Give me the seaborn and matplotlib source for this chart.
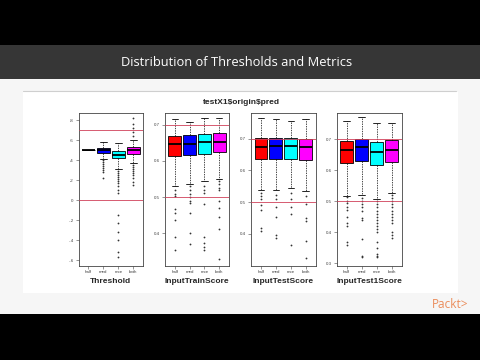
import numpy as np
import pandas as pd
import matplotlib
matplotlib.use("Agg")
import matplotlib.pyplot as plt
from matplotlib.patches import Rectangle
import seaborn as sns

sns.set_style("ticks")
plt.rcParams['font.family'] = ['Liberation Sans', 'DejaVu Sans']

groups = ["half", "med", "mce", "both"]
colors = ["#ff0000", "#0000ff", "#00ffff", "#ff00ff"]

# Threshold: five-number summaries (whisker low, q1, median, q3, whisker high)
thr_lo = [0.5, 0.413, 0.307, 0.37]
thr_q1 = [0.5, 0.477, 0.427, 0.467]
thr_med = [0.5, 0.5, 0.457, 0.5]
thr_q3 = [0.5, 0.523, 0.49, 0.533]
thr_hi = [0.5, 0.583, 0.577, 0.607]
thr_out = [
    [],
    [0.40, 0.38, 0.36, 0.34, 0.32, 0.30, 0.28, 0.22],
    [0.29, 0.27, 0.25, 0.23, 0.21, 0.19, 0.17, 0.14, 0.10, 0.07,
     -0.15, -0.23, -0.32, -0.40, -0.52, -0.57],
    [0.64, 0.68, 0.72, 0.76, 0.82, 0.35, 0.33, 0.31, 0.29, 0.27, 0.25, 0.22, 0.18, 0.15],
]

# InputTrainScore
train_lo = [0.531, 0.537, 0.545, 0.55]
train_q1 = [0.614, 0.617, 0.619, 0.624]
train_med = [0.6465, 0.6465, 0.652, 0.652]
train_q3 = [0.6695, 0.671, 0.675, 0.677]
train_hi = [0.716, 0.709, 0.7185, 0.7185]
train_out = [
    [0.52, 0.51, 0.503, 0.467, 0.455, 0.437, 0.391, 0.354],
    [0.53, 0.52, 0.51, 0.50, 0.49, 0.483, 0.455, 0.40, 0.37],
    [0.53, 0.52, 0.511, 0.48, 0.391, 0.372, 0.363, 0.354],
    [0.545, 0.535, 0.525, 0.52, 0.49, 0.47, 0.446, 0.412, 0.33],
]

# InputTestScore
test_lo = [0.5385, 0.5385, 0.544, 0.536]
test_q1 = [0.636, 0.636, 0.636, 0.6335]
test_med = [0.6757, 0.678, 0.679, 0.6757]
test_q3 = [0.702, 0.702, 0.702, 0.701]
test_hi = [0.7655, 0.762, 0.758, 0.762]
test_out = [
    [0.528, 0.52, 0.509, 0.491, 0.475, 0.417, 0.41],
    [0.523, 0.51, 0.485, 0.453, 0.397, 0.387],
    [0.528, 0.51, 0.486, 0.463, 0.365],
    [0.52, 0.495, 0.45, 0.44, 0.378, 0.324],
]

# InputTest1Score
test1_lo = [0.5165, 0.5198, 0.5059, 0.527]
test1_q1 = [0.6237, 0.628, 0.6163, 0.626]
test1_med = [0.6646, 0.673, 0.657, 0.6636]
test1_q3 = [0.6946, 0.701, 0.6903, 0.6968]
test1_hi = [0.759, 0.7698, 0.7525, 0.7525]
test1_out = [
    [0.512, 0.502, 0.493, 0.482, 0.4715, 0.45, 0.4287, 0.42, 0.369, 0.359],
    [0.51, 0.50, 0.49, 0.48, 0.47, 0.445, 0.44, 0.377, 0.324, 0.319],
    [0.50, 0.49, 0.48, 0.47, 0.46, 0.45, 0.44, 0.43, 0.42, 0.41, 0.40,
     0.37, 0.35, 0.33, 0.325, 0.32],
    [0.52, 0.51, 0.50, 0.49, 0.48, 0.47, 0.46, 0.45, 0.44, 0.43, 0.40, 0.39, 0.38],
]

panel_names = ["Threshold", "InputTrainScore", "InputTestScore", "InputTest1Score"]
ref_lines = [[0.7, 0.0], [0.7, 0.5], [0.7, 0.5], [0.7, 0.5]]
ylims = [(-0.656, 0.87), (0.3105, 0.732), (0.299, 0.781), (0.2926, 0.783)]
yticks = [
    [0.8, 0.6, 0.4, 0.2, 0.0, -0.2, -0.4, -0.6],
    [0.7, 0.6, 0.5, 0.4],
    [0.7, 0.6, 0.5, 0.4],
    [0.7, 0.6, 0.5, 0.4, 0.3],
]
yticklabels = [
    [".8", ".6", ".4", ".2", "0", "-.2", "-.4", "-.6"],
    ["0.7", "0.6", "0.5", "0.4"],
    ["0.7", "0.6", "0.5", "0.4"],
    ["0.7", "0.6", "0.5", "0.4", "0.3"],
]

summaries = [
    (thr_lo, thr_q1, thr_med, thr_q3, thr_hi, thr_out),
    (train_lo, train_q1, train_med, train_q3, train_hi, train_out),
    (test_lo, test_q1, test_med, test_q3, test_hi, test_out),
    (test1_lo, test1_q1, test1_med, test1_q3, test1_hi, test1_out),
]

W, H = 480, 360
fig = plt.figure(figsize=(4.8, 3.6), dpi=100, facecolor="black")


def rect(x0, y0, x1, y1, color):
    fig.add_artist(Rectangle((x0 / W, 1 - y1 / H), (x1 - x0) / W, (y1 - y0) / H,
                             transform=fig.transFigure, facecolor=color,
                             edgecolor="none", zorder=-5))


# slide frame
rect(0, 45, 480, 79, "#363636")
rect(0, 79, 480, 314, "#f6f6f6")
rect(23, 92, 458, 293, "#ffffff")
fig.add_artist(plt.Line2D([23 / W, 456 / W], [1 - 91 / H, 1 - 91 / H], transform=fig.transFigure,
                          color="#cfcfcf", lw=0.8, zorder=-4))
fig.text(237 / W, 1 - 62 / H, "Distribution of Thresholds and Metrics", color="white",
         fontsize=9.3, ha="center", va="center", family=["Open Sans", "DejaVu Sans"])
fig.text(241 / W, 1 - 102 / H, r"testX1\$origin\$pred", fontsize=6, fontweight="bold",
         ha="center", va="center")
fig.text(450 / W, 1 - 304 / H, "Packt>", color="#eb8c5a", fontsize=8.5,
         ha="center", va="center", family=["Open Sans", "DejaVu Sans"])

panel_x = [(78.5, 143.3), (165, 229), (251, 315.5), (336.7, 401.5)]
top, bottom = 113.3, 265.6

for i, (lo, q1, med, q3, hi, out) in enumerate(summaries):
    x0, x1 = panel_x[i]
    ax = fig.add_axes([x0 / W, 1 - bottom / H, (x1 - x0) / W, (bottom - top) / H])
    ax.set_facecolor("white")

    rows = []
    for g, vals in zip(groups, zip(lo, q1, med, q3, hi)):
        for v in vals:
            rows.append((g, v))
    box_df = pd.DataFrame(rows, columns=["group", "value"])
    out_df = pd.DataFrame([(g, v) for g, vs in zip(groups, out) for v in vs],
                          columns=["group", "value"])

    sns.boxplot(data=box_df, x="group", y="value", hue="group", order=groups,
                hue_order=groups, palette=colors, saturation=1, legend=False,
                width=0.85, whis=(0, 100), showfliers=False, linecolor="black",
                linewidth=0.6, medianprops=dict(linewidth=1.3),
                whiskerprops=dict(linestyle=(0, (2, 1.5)), linewidth=0.5), ax=ax)
    sns.stripplot(data=out_df, x="group", y="value", order=groups, jitter=False,
                  color="#333333", size=1.3, linewidth=0, ax=ax)

    for v in ref_lines[i]:
        ax.axhline(v, color="#d0405a", lw=0.6, zorder=5)

    ax.set_xlim(-0.66, 3.66)
    ax.set_ylim(*ylims[i])
    ax.set_yticks(yticks[i])
    ax.set_yticklabels(yticklabels[i], fontsize=3.2, color="#444444")
    ax.set_xticks(range(4))
    ax.set_xticklabels(groups, fontsize=3.2, color="#444444")
    ax.tick_params(length=2, width=0.4, pad=1.5, color="#444444")
    for s in ax.spines.values():
        s.set_visible(True)
        s.set_color("#444444")
        s.set_linewidth(0.6)
    ax.set_ylabel("")
    ax.set_xlabel(panel_names[i], fontsize=6, fontweight="bold", labelpad=2.5)

fig.savefig("out.png", dpi=100, facecolor="black")
